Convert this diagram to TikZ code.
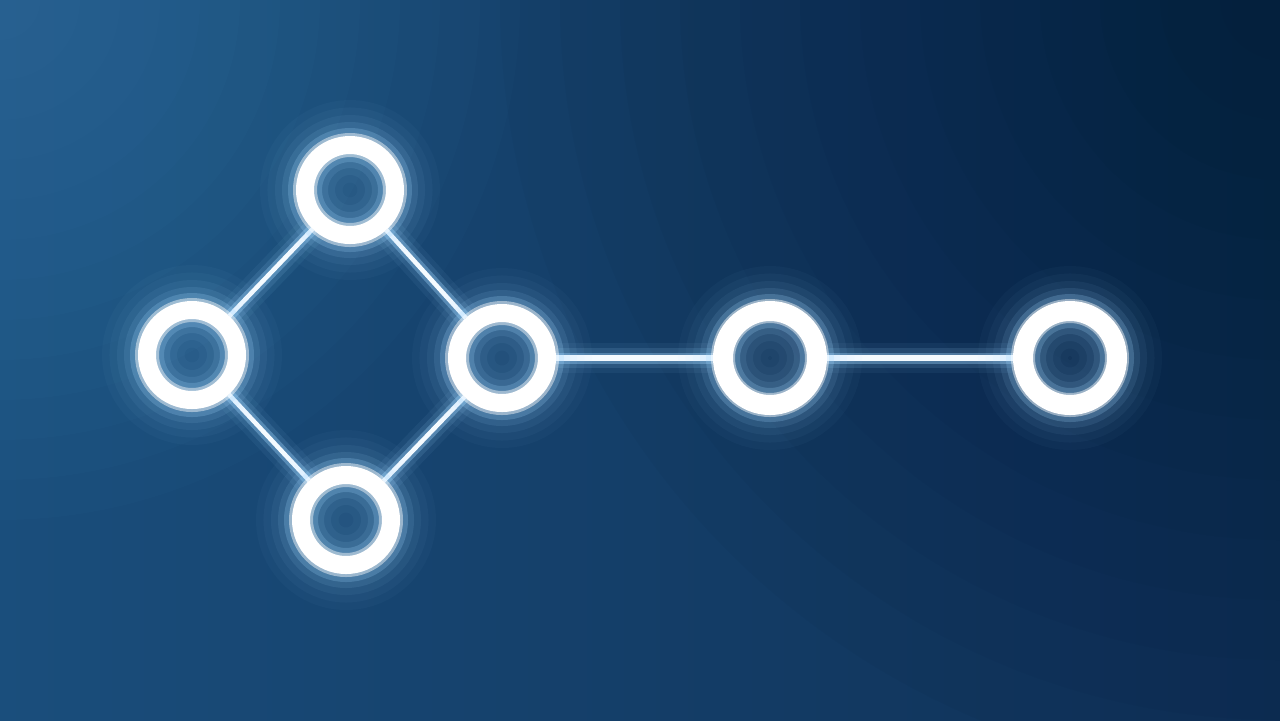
\documentclass[tikz,border=0pt]{standalone}
\usepackage{tikz}
\usetikzlibrary{backgrounds}

\definecolor{bgleft}{RGB}{26,78,124}
\definecolor{bgright}{RGB}{14,46,84}
\definecolor{bghi}{RGB}{80,150,200}
\definecolor{bgdark}{RGB}{4,16,36}
\definecolor{glow}{RGB}{160,215,255}

\tikzset{
  ring/.style = {circle, inner sep=0pt, minimum size=9mm, draw=white, line width=1.8mm,
    preaction={fill=glow, opacity=0.08},
    preaction={draw=glow, line width=9mm, opacity=0.03},
    preaction={draw=glow, line width=7.5mm, opacity=0.04},
    preaction={draw=glow, line width=6mm, opacity=0.06},
    preaction={draw=glow, line width=4.6mm, opacity=0.10},
    preaction={draw=glow, line width=3.4mm, opacity=0.22},
    preaction={draw=white, line width=2.4mm, opacity=0.45}},
  bigring/.style = {ring, minimum size=9.4mm, line width=2mm},
  link/.style = {draw=white!90!glow, line width=0.45mm,
    preaction={draw=glow, line width=3mm, opacity=0.06},
    preaction={draw=glow, line width=2mm, opacity=0.12},
    preaction={draw=glow, line width=1.1mm, opacity=0.35}}
}

\begin{document}
\begin{tikzpicture}[x=0.1mm, y=-0.1mm]
\useasboundingbox (0,0) rectangle (1280,720);

\node[ring] (top) at (350,190) {};
\node[ring] (left) at (192,355) {};
\node[ring] (hub) at (502,358) {};
\node[ring] (bottom) at (346,520) {};
\node[bigring] (near) at (770,358) {};
\node[bigring] (far) at (1070,358) {};

\begin{scope}[on background layer]
\shade[left color=bgleft, right color=bgright] (0,0) rectangle (1280,720);
\foreach \r in {40,80,...,520}
  \fill[bghi, opacity=0.03] (0,0) circle (\r);
\foreach \r in {60,120,...,780}
  \fill[bgdark, opacity=0.035] (1280,0) circle (\r);
% links
\draw[link] (top) -- (left);
\draw[link] (top) -- (hub);
\draw[link] (left) -- (bottom);
\draw[link] (bottom) -- (hub);
\draw[link, line width=0.6mm] (hub) -- (near);
\draw[link, line width=0.6mm] (near) -- (far);
\end{scope}
\end{tikzpicture}
\end{document}
